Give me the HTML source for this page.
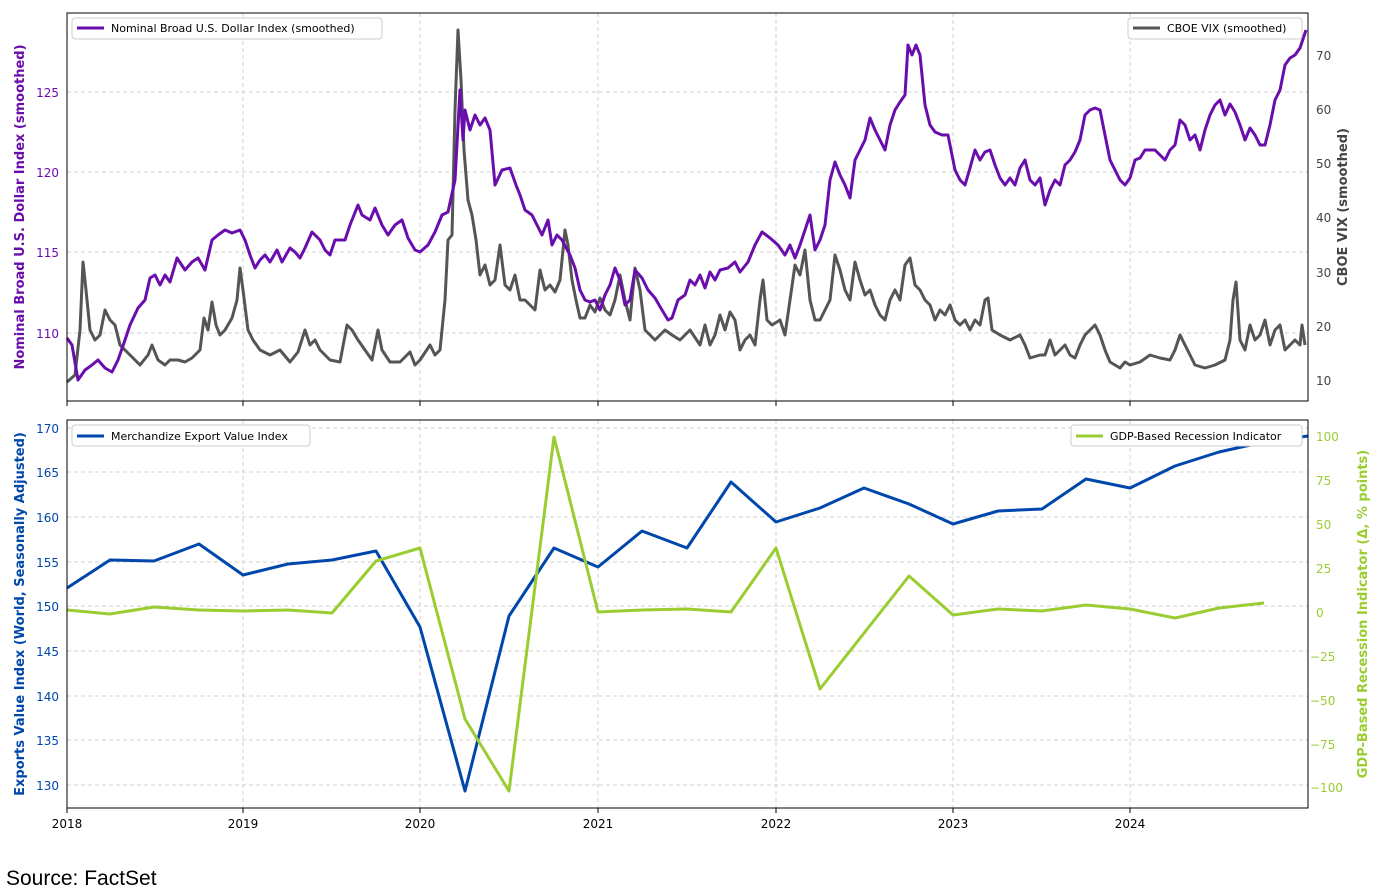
<!DOCTYPE html>
<html><head><meta charset="utf-8"><style>
body{margin:0;background:#fff;width:1381px;height:891px;overflow:hidden}
svg{font-family:"DejaVu Sans","Liberation Sans",sans-serif}
</style></head><body>
<svg width="1381" height="891" viewBox="0 0 1381 891" xmlns="http://www.w3.org/2000/svg">
<g stroke="#d0d0d0" stroke-dasharray="4,3" stroke-width="1">
<line x1="243" y1="13" x2="243" y2="401"/><line x1="420" y1="13" x2="420" y2="401"/><line x1="598" y1="13" x2="598" y2="401"/><line x1="776" y1="13" x2="776" y2="401"/><line x1="953" y1="13" x2="953" y2="401"/><line x1="1130" y1="13" x2="1130" y2="401"/>
<line x1="67" y1="92" x2="1308" y2="92"/><line x1="67" y1="172" x2="1308" y2="172"/><line x1="67" y1="252" x2="1308" y2="252"/><line x1="67" y1="333" x2="1308" y2="333"/>
<line x1="243" y1="420" x2="243" y2="808"/><line x1="420" y1="420" x2="420" y2="808"/><line x1="598" y1="420" x2="598" y2="808"/><line x1="776" y1="420" x2="776" y2="808"/><line x1="953" y1="420" x2="953" y2="808"/><line x1="1130" y1="420" x2="1130" y2="808"/>
<line x1="67" y1="428" x2="1308" y2="428"/><line x1="67" y1="472" x2="1308" y2="472"/><line x1="67" y1="517" x2="1308" y2="517"/><line x1="67" y1="562" x2="1308" y2="562"/><line x1="67" y1="606" x2="1308" y2="606"/><line x1="67" y1="651" x2="1308" y2="651"/><line x1="67" y1="696" x2="1308" y2="696"/><line x1="67" y1="740" x2="1308" y2="740"/><line x1="67" y1="785" x2="1308" y2="785"/>
</g>
<g fill="none" stroke-width="3" stroke-linejoin="round">
<polyline stroke="#555" points="67,382 75,375 80,330 83,262 86,290 90,330 95,340 100,335 105,310 110,320 115,325 120,345 125,350 130,355 140,365 148,355 152,345 158,360 165,365 170,360 178,360 185,362 192,358 200,350 204,318 208,330 212,302 216,325 220,335 225,330 232,318 237,300 240,268 243,290 248,330 253,340 260,350 270,355 280,350 290,362 298,352 305,330 310,345 315,340 320,350 330,360 340,362 347,325 352,330 358,340 365,350 372,360 378,330 382,350 390,362 400,362 410,352 415,365 420,360 430,345 435,355 440,350 445,300 448,240 452,235 455,110 458,30 461,80 464,150 468,200 472,215 476,240 480,275 485,265 490,285 495,280 500,245 505,285 510,290 515,275 520,300 525,300 530,305 535,310 540,270 545,290 550,285 555,292 560,280 565,230 568,245 572,280 576,300 580,318 585,318 590,305 595,312 600,298 605,310 610,315 615,300 620,275 625,300 630,320 635,268 640,290 645,330 655,340 665,330 672,335 680,340 690,330 700,345 705,325 710,345 715,335 720,315 725,330 730,312 735,320 740,350 745,340 750,335 755,345 760,300 763,280 767,320 772,325 780,320 785,335 790,300 795,265 800,275 805,250 810,300 815,320 820,320 825,310 830,300 835,255 840,270 845,290 850,300 855,262 860,280 865,295 870,290 875,305 880,315 885,320 890,300 895,290 900,300 905,265 910,258 915,285 920,290 925,300 930,305 935,320 940,310 945,315 950,305 955,320 960,325 965,320 970,330 975,320 980,325 985,300 988,298 992,330 1000,335 1010,340 1020,335 1025,345 1030,358 1040,355 1045,355 1050,340 1055,355 1060,350 1065,345 1070,355 1075,358 1080,345 1085,335 1090,330 1095,325 1100,335 1105,350 1110,362 1115,365 1120,368 1125,362 1130,365 1140,362 1150,355 1160,358 1170,360 1175,350 1180,335 1185,345 1190,355 1195,365 1205,368 1215,365 1225,360 1230,340 1233,300 1236,282 1240,340 1245,350 1250,325 1255,340 1260,335 1265,320 1270,345 1275,330 1280,325 1285,350 1290,345 1295,340 1300,345 1302,325 1305,345"/>
<polyline stroke="#6a0dad" points="67,338 72,345 78,380 85,370 92,365 98,360 105,368 112,372 118,360 125,340 130,325 138,308 145,300 150,278 155,275 160,285 165,275 170,282 177,258 185,270 192,262 198,258 205,270 212,240 218,235 225,230 232,233 240,230 245,240 250,255 255,268 260,260 265,255 270,262 277,250 282,262 290,248 295,252 300,258 305,248 312,232 320,240 325,250 330,255 335,240 345,240 350,225 358,205 362,215 370,220 375,208 382,225 388,235 395,225 402,220 408,238 415,250 420,252 428,245 435,232 442,215 448,212 455,180 460,90 463,140 465,110 470,130 475,115 480,125 485,118 490,130 495,185 502,170 510,168 516,185 520,195 525,210 532,215 537,225 542,235 548,220 552,245 557,235 562,240 570,255 575,268 580,290 585,300 590,302 595,300 600,310 605,295 610,285 615,268 620,280 625,305 630,300 635,270 642,278 648,290 655,298 662,310 668,320 672,318 678,300 685,295 690,280 695,285 700,275 705,288 710,272 715,280 720,270 728,268 735,262 740,272 748,262 755,245 762,232 770,238 778,245 785,255 790,245 795,258 800,245 805,230 810,215 815,250 820,240 825,225 830,180 835,162 840,175 845,185 850,198 855,160 860,150 865,140 870,118 875,130 880,140 885,150 890,125 895,110 900,102 905,95 908,45 912,55 916,45 920,55 925,105 930,125 935,132 942,135 948,135 955,170 960,180 965,185 970,168 975,150 980,160 985,152 990,150 995,165 1000,178 1005,185 1010,178 1015,185 1020,168 1025,160 1030,180 1035,185 1040,178 1045,205 1050,190 1055,180 1060,185 1065,165 1070,160 1075,152 1080,140 1085,115 1090,110 1095,108 1100,110 1105,135 1110,160 1115,170 1120,180 1125,185 1130,178 1135,160 1140,158 1145,150 1150,150 1155,150 1160,155 1165,160 1170,150 1175,145 1180,120 1185,125 1190,140 1195,135 1200,150 1205,130 1210,115 1215,105 1220,100 1225,115 1230,104 1235,112 1240,125 1245,140 1250,128 1255,135 1260,145 1265,145 1270,125 1275,100 1280,90 1285,65 1290,58 1295,55 1300,48 1306,30"/>
<polyline stroke="#0047ab" points="67,588 110,560 154,561 199,544 243,575 288,564 332,560 376,551 420,627 465,791 509,616 554,548 598,567 642,531 687,548 731,482 776,522 820,508 864,488 909,504 953,524 998,511 1042,509 1086,479 1130,488 1175,466 1219,452 1264,442 1308,436"/>
<polyline stroke="#9acd32" points="67,610 110,614 154,607 199,610 243,611 288,610 332,613 376,561 420,548 465,719 509,791 554,437 598,612 642,610 687,609 731,612 776,548 820,689 909,576 953,615 998,609 1042,611 1086,605 1130,609 1175,618 1219,608 1264,603"/>
</g>
<rect x="67" y="13" width="1241" height="388" fill="none" stroke="#000" stroke-width="1"/>
<rect x="67" y="420" width="1241" height="388" fill="none" stroke="#000" stroke-width="1"/>
<g stroke="#000"><line x1="67" y1="401" x2="67" y2="406"/><line x1="243" y1="401" x2="243" y2="406"/><line x1="420" y1="401" x2="420" y2="406"/><line x1="598" y1="401" x2="598" y2="406"/><line x1="776" y1="401" x2="776" y2="406"/><line x1="953" y1="401" x2="953" y2="406"/><line x1="1130" y1="401" x2="1130" y2="406"/>
<line x1="67" y1="808" x2="67" y2="813"/><line x1="243" y1="808" x2="243" y2="813"/><line x1="420" y1="808" x2="420" y2="813"/><line x1="598" y1="808" x2="598" y2="813"/><line x1="776" y1="808" x2="776" y2="813"/><line x1="953" y1="808" x2="953" y2="813"/><line x1="1130" y1="808" x2="1130" y2="813"/></g>
<g font-size="12" text-anchor="middle" fill="#000"><text x="67" y="828">2018</text><text x="243" y="828">2019</text><text x="420" y="828">2020</text><text x="598" y="828">2021</text><text x="776" y="828">2022</text><text x="953" y="828">2023</text><text x="1130" y="828">2024</text></g>
<g font-size="12" text-anchor="end" fill="#6a0dad"><text x="59" y="97">125</text><text x="59" y="177">120</text><text x="59" y="257">115</text><text x="59" y="338">110</text></g>
<g font-size="12" fill="#444"><text x="1316" y="60">70</text><text x="1316" y="114">60</text><text x="1316" y="168">50</text><text x="1316" y="222">40</text><text x="1316" y="277">30</text><text x="1316" y="331">20</text><text x="1316" y="385">10</text></g>
<g font-size="12" text-anchor="end" fill="#0047ab"><text x="59" y="433">170</text><text x="59" y="477">165</text><text x="59" y="522">160</text><text x="59" y="567">155</text><text x="59" y="611">150</text><text x="59" y="656">145</text><text x="59" y="701">140</text><text x="59" y="745">135</text><text x="59" y="790">130</text></g>
<g font-size="12" fill="#9acd32"><text x="1316" y="441">100</text><text x="1316" y="485">75</text><text x="1316" y="529">50</text><text x="1316" y="573">25</text><text x="1316" y="617">0</text><text x="1310" y="661">−25</text><text x="1310" y="705">−50</text><text x="1310" y="749">−75</text><text x="1310" y="792">−100</text></g>
<g font-size="13" font-weight="bold" text-anchor="middle">
<text transform="translate(24,207) rotate(-90)" fill="#6a0dad">Nominal Broad U.S. Dollar Index (smoothed)</text>
<text transform="translate(1347,207) rotate(-90)" fill="#444">CBOE VIX (smoothed)</text>
<text transform="translate(24,614) rotate(-90)" fill="#0047ab">Exports Value Index (World, Seasonally Adjusted)</text>
<text transform="translate(1367,614) rotate(-90)" fill="#9acd32">GDP-Based Recession Indicator (Δ, % points)</text></g>
<g font-size="11">
<rect x="72" y="18" width="310" height="21" fill="#fff" stroke="#ccc" rx="3"/><line x1="77" y1="28" x2="104" y2="28" stroke="#6a0dad" stroke-width="3"/><text x="111" y="32">Nominal Broad U.S. Dollar Index (smoothed)</text>
<rect x="1128" y="18" width="174" height="21" fill="#fff" stroke="#ccc" rx="3"/><line x1="1133" y1="28" x2="1160" y2="28" stroke="#555" stroke-width="3"/><text x="1167" y="32">CBOE VIX (smoothed)</text>
<rect x="72" y="425" width="238" height="21" fill="#fff" stroke="#ccc" rx="3"/><line x1="77" y1="436" x2="104" y2="436" stroke="#0047ab" stroke-width="3"/><text x="111" y="440">Merchandize Export Value Index</text>
<rect x="1071" y="425" width="231" height="21" fill="#fff" stroke="#ccc" rx="3"/><line x1="1076" y1="436" x2="1103" y2="436" stroke="#9acd32" stroke-width="3"/><text x="1110" y="440">GDP-Based Recession Indicator</text></g>
<text x="6" y="885" font-size="21" fill="#000" font-family="Liberation Sans, sans-serif">Source: FactSet</text>
</svg>
</body></html>
